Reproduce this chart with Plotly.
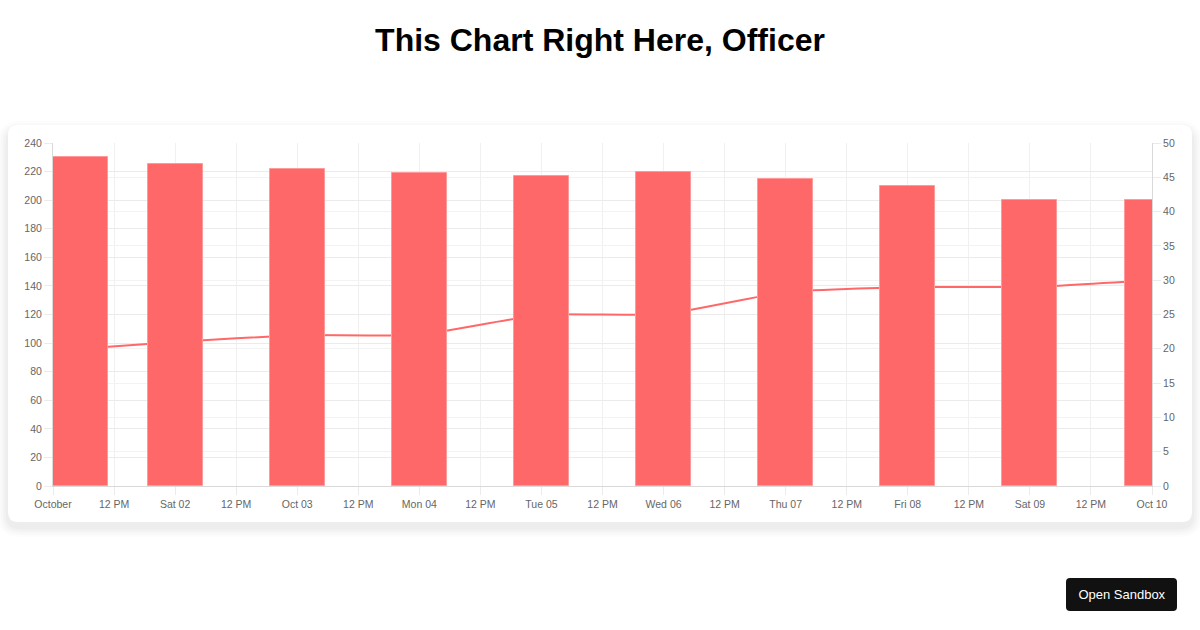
import pandas as pd
import plotly.graph_objects as go

# data
tanggal = ["2021-10-01 05:24", "2021-10-02", "2021-10-03", "2021-10-04", "2021-10-05",
           "2021-10-06", "2021-10-07", "2021-10-08", "2021-10-09", "2021-10-10"]
nilai_bar = [230, 225, 222, 219, 217, 220, 215, 210, 200, 200]
nilai_garis = [20, 21, 22, 22, 25, 25, 28.3, 29, 29, 30]

label_x = ["October", "12 PM", "Sat 02", "12 PM", "Oct 03", "12 PM", "Mon 04", "12 PM",
           "Tue 05", "12 PM", "Wed 06", "12 PM", "Thu 07", "12 PM", "Fri 08", "12 PM",
           "Sat 09", "12 PM", "Oct 10"]
tick_x = pd.date_range("2021-10-01", "2021-10-10", freq="12h")

WARNA = "#ff6868"
GRID = "#ebebeb"
FONT = "Liberation Sans, Arial, sans-serif"

# plot area in pixels (from the reference)
L, R, T, B = 53, 1152, 143, 486
W, H = R - L, B - T


def px2paper(x, y):
    return (x - L) / W, (B - y) / H


def kotak_bulat(x0, y0, x1, y1, r):
    # rounded rect path in paper coords
    rx, ry = r / W, r / H
    a0, b1 = px2paper(x0, y0)
    a1, b0 = px2paper(x1, y1)
    return (f"M {a0+rx},{b1} L {a1-rx},{b1} Q {a1},{b1} {a1},{b1-ry} "
            f"L {a1},{b0+ry} Q {a1},{b0} {a1-rx},{b0} L {a0+rx},{b0} "
            f"Q {a0},{b0} {a0},{b0+ry} L {a0},{b1-ry} Q {a0},{b1} {a0+rx},{b1} Z")


fig = go.Figure()

# garis dulu (di y, tergambar di bawah bar)
fig.add_trace(go.Scatter(
    x=tanggal, y=nilai_garis, mode="lines", yaxis="y",
    line=dict(color=WARNA, width=2, shape="spline", smoothing=0.3),
    showlegend=False,
))

fig.add_trace(go.Bar(
    x=tanggal, y=nilai_bar, yaxis="y2",
    width=0.45 * 86400000,
    marker=dict(color=WARNA, line=dict(color="#ff9a9a", width=1)),
    showlegend=False,
))

# kartu + bayangan
shapes = []
for i, op in enumerate([0.010, 0.014, 0.018, 0.022]):
    g = 10 - i * 2.5
    shapes.append(dict(type="path", xref="paper", yref="paper", layer="below",
                       path=kotak_bulat(8 - g, 125 - g + 6, 1192 + g, 522 + g + 5, 12 + g),
                       fillcolor=f"rgba(0,0,0,{op})", line=dict(width=0)))
shapes.append(dict(type="path", xref="paper", yref="paper", layer="below",
                   path=kotak_bulat(8, 125, 1192, 522, 10),
                   fillcolor="white", line=dict(width=0)))
# tombol
shapes.append(dict(type="path", xref="paper", yref="paper", layer="above",
                   path=kotak_bulat(1066, 578, 1177, 611, 4),
                   fillcolor="#111111", line=dict(width=0)))

bx, by = px2paper((1066 + 1177) / 2, (578 + 611) / 2)

fig.update_layout(
    width=1200, height=630,
    margin=dict(l=L, r=1200 - R, t=T, b=630 - B),
    paper_bgcolor="white", plot_bgcolor="rgba(0,0,0,0)",
    bargap=0,
    title=dict(text="This Chart Right Here, Officer", x=0.5, xanchor="center",
               y=1 - 40 / 630, yanchor="middle", yref="container",
               font=dict(family=FONT, size=32, color="black", weight="bold")),
    font=dict(family=FONT, size=10.5, color="#666666"),
    xaxis=dict(type="date", range=["2021-10-01", "2021-10-10"],
               tickvals=tick_x, ticktext=label_x, tickangle=0,
               showgrid=True, gridcolor="#f0f0f0", gridwidth=1,
               ticks="outside", ticklen=8, tickcolor=GRID,
               showline=True, linecolor="#d9d9d9", linewidth=1,
               zeroline=False, fixedrange=True),
    yaxis=dict(side="right", range=[0, 50], dtick=5,
               showgrid=True, gridcolor="#f3f3f3",
               ticks="outside", ticklen=8, tickcolor=GRID,
               showline=True, linecolor="#d9d9d9", zeroline=False),
    yaxis2=dict(side="left", overlaying="y", range=[0, 240], dtick=20,
                showgrid=True, gridcolor=GRID,
                ticks="outside", ticklen=8, tickcolor=GRID,
                showline=True, linecolor="#d9d9d9", zeroline=False),
    shapes=shapes,
    annotations=[dict(text="Open Sandbox", x=bx, y=by, xref="paper", yref="paper",
                      xanchor="center", yanchor="middle", width=120, align="center",
                      showarrow=False, font=dict(family=FONT, size=13, color="white"))],
)

fig.write_html("out.html", config={"displayModeBar": False},
               post_script="document.body.style.margin='0';")
